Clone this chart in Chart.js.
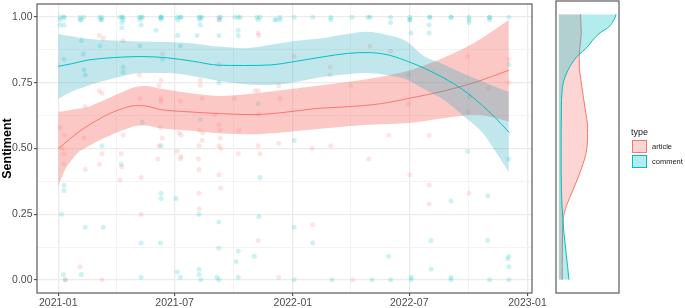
<!DOCTYPE html>
<html>
<head>
<meta charset="utf-8">
<script src="https://cdn.jsdelivr.net/npm/chart.js@4.4.1/dist/chart.umd.min.js"></script>
<style>
  html, body { margin: 0; padding: 0; background: #fff; }
  #wrap { position: relative; width: 685px; height: 308px; overflow: hidden; font-family: "Liberation Sans", Arial, sans-serif; color: #1a1a1a; }
  #mainChart { position: absolute; left: 0; top: 0; }
  #densityChart { position: absolute; left: 540px; top: 0; }
  .ttl { position: absolute; left: 631px; top: 127px; font-size: 9px; line-height: 10px; }
  .key { position: absolute; left: 632px; width: 15px; height: 13px; box-sizing: border-box; border: 1px solid; }
  .lab { position: absolute; left: 652px; font-size: 7.5px; line-height: 13px; }
</style>
</head>
<body>
<div id="wrap">
  <canvas id="mainChart" width="550" height="308"></canvas>
  <canvas id="densityChart" width="90" height="308"></canvas>
  <div class="ttl">type</div>
  <div class="key" style="top:140px;background:rgba(248,118,109,0.3);border-color:#F8766D"></div>
  <div class="lab" style="top:140px">article</div>
  <div class="key" style="top:155px;background:rgba(0,191,196,0.3);border-color:#00BFC4"></div>
  <div class="lab" style="top:155px">comment</div>
</div>
<script>
/* ===========================
Data (x = days since 2021-01-01)
=========================== */

const xMajorDays = [0, 181, 365, 546, 730];
const xTickLabels = ["2021-01", "2021-07", "2022-01", "2022-07", "2023-01"];
const xMinorDays = [90, 273, 455, 638];
const yMajor = [0, 0.25, 0.5, 0.75, 1];
const yTickLabels = ["0.00", "0.25", "0.50", "0.75", "1.00"];
const yMinor = [0.125, 0.375, 0.625, 0.875];

const articleDays = [64, 70, 101, 126, 162, 160, 157, 221, 221, 64, 68, 42, 127, 160, 160, 190, 3, 9, 40, 101, 159, 162, 188, 191, 219, 219,
    6, 9, 9, 42, 64, 68, 98, 99, 96, 129, 155, 157, 185, 191, 190, 218, 219, 219, 219, 129, 34, 68, 11,
    224, 274, 306, 311, 343, 345, 455, 312, 244, 250, 252, 281, 252, 250, 253, 225, 224, 311, 343, 395, 424, 250, 311, 312, 250, 367, 423, 423,
    280, 314, 483, 250, 253, 311, 396, 343, 458,
    485, 517, 637, 701, 701, 670, 545, 637, 514, 577, 547, 577, 577, 639];
const articleVals = [0.93, 0.92, 0.91, 0.78, 0.86, 0.76, 0.74, 0.76, 0.74, 0.72, 0.71, 0.66, 0.69, 0.69, 0.68, 0.68, 0.58, 0.55, 0.54, 0.55, 0.58, 0.54, 0.56, 0.55, 0.57, 0.51,
    0.50, 0.48, 0.44, 0.42, 0.44, 0.48, 0.48, 0.43, 0.38, 0.39, 0.46, 0.51, 0.49, 0.47, 0.46, 0.46, 0.42, 0.33, 0.27, 0.25, 0.05, 0.00, 0.00,
    0.69, 0.69, 0.72, 0.72, 0.74, 0.69, 0.74, 0.63, 0.63, 0.59, 0.57, 0.57, 0.54, 0.51, 0.50, 0.56, 0.53, 0.51, 0.52, 0.50, 0.51, 0.99, 0.94, 0.93, 0.82, 0.85, 0.81, 0.78,
    0.48, 0.48, 0.46, 0.40, 0.35, 0.15, 0.21, 0.01, 0.00,
    0.89, 0.87, 0.85, 0.84, 0.75, 0.73, 0.67, 0.64, 0.55, 0.55, 0.40, 0.36, 0.29, 0.33];

const commentDays = [3, 3, 9, 9, 34, 36, 40, 64, 66, 68, 96, 99, 101, 101, 126, 127, 129, 131, 159, 160, 160, 161, 185, 186, 190, 191, 219, 220, 221, 224,
    250, 251, 253, 275, 280, 283, 309, 311, 314, 337, 345, 367, 396, 424, 424, 457, 482, 485, 517, 547, 547, 578, 578, 611, 611, 639, 639, 671, 671, 701,
    3, 9, 34, 68, 99, 99, 129, 152, 186, 216, 221, 280, 280, 250, 339, 345, 517, 547, 577, 577, 549, 639, 671,
    36, 65, 9, 39, 40, 42, 101, 101, 162, 127, 190, 250, 701, 545, 640, 637, 68, 160, 131, 221, 311,
    98, 9, 9, 5, 42, 70, 160, 160, 183, 219, 129, 159, 8, 36, 129, 185, 190, 219, 219, 222, 11,
    314, 250, 312, 367, 396, 250, 280, 277, 305, 247, 250, 280, 367, 426, 367,
    701, 611, 668, 580, 668, 514, 701, 699, 701, 580, 488, 517, 549, 549, 611, 611, 671, 701];
const commentVals = [1, 0.99, 1, 1, 1, 0.99, 1, 1, 0.99, 1, 1, 1, 1, 0.99, 1, 0.99, 1, 1, 1, 1, 0.99, 1, 1, 0.99, 1, 1, 1, 0.99, 1, 1,
    1, 0.99, 1, 1, 1, 1, 1, 0.99, 1, 0.99, 1, 1, 1, 1, 0.99, 1, 1, 1, 1, 1, 0.99, 1, 1, 1, 1, 1, 0.99, 1, 1, 1,
    0.97, 0.97, 0.99, 0.99, 0.98, 0.96, 0.97, 0.95, 0.93, 0.93, 0.97, 0.95, 0.93, 0.93, 0.99, 0.99, 0.98, 0.99, 0.97, 0.94, 0.94, 0.98, 0.99,
    0.91, 0.89, 0.84, 0.86, 0.80, 0.78, 0.81, 0.79, 0.84, 0.89, 0.89, 0.75, 0.82, 0.78, 0.70, 0.49, 0.51, 0.51, 0.60, 0.61, 0.67,
    0.44, 0.36, 0.34, 0.25, 0.20, 0.20, 0.33, 0.31, 0.31, 0.25, 0.14, 0.14, 0.02, 0.02, 0.01, 0.03, 0.01, 0.04, 0.02, 0.00, 0.00,
    0.39, 0.22, 0.24, 0.20, 0.14, 0.12, 0.11, 0.07, 0.09, 0.01, 0.00, 0.01, 0.00, 0.00, 0.53,
    0.46, 0.30, 0.32, 0.15, 0.15, 0.09, 0.09, 0.08, 0.05, 0.04, 0.00, 0.00, 0.00, 0.01, 0.01, 0.00, 0.00, 0.00];

// smoothed trend + confidence band
const articleFitDays = [0, 10, 20, 30, 45, 60, 80, 100, 120, 135, 160, 200, 250, 300, 350, 400, 450, 500, 550, 600, 650, 701];
const articleFit = [0.50, 0.52, 0.54, 0.56, 0.585, 0.607, 0.633, 0.652, 0.663, 0.662, 0.648, 0.64, 0.633, 0.629, 0.637, 0.652, 0.659, 0.67, 0.693, 0.719, 0.753, 0.798];
const articleUpper = [0.64, 0.643, 0.647, 0.651, 0.657, 0.672, 0.693, 0.715, 0.734, 0.738, 0.727, 0.712, 0.70, 0.708, 0.723, 0.738, 0.753, 0.772, 0.80, 0.846, 0.906, 0.989];
const articleLower = [0.356, 0.416, 0.453, 0.483, 0.506, 0.527, 0.549, 0.569, 0.586, 0.588, 0.577, 0.569, 0.558, 0.554, 0.562, 0.573, 0.585, 0.592, 0.598, 0.615, 0.628, 0.603];

const commentFitDays = [0, 20, 45, 70, 100, 130, 170, 210, 250, 290, 330, 370, 410, 450, 480, 510, 540, 570, 600, 630, 660, 680, 701];
const commentFit = [0.813, 0.822, 0.836, 0.843, 0.848, 0.85, 0.845, 0.832, 0.817, 0.816, 0.818, 0.832, 0.848, 0.862, 0.865, 0.858, 0.835, 0.805, 0.768, 0.723, 0.663, 0.617, 0.562];
const commentUpper = [0.936, 0.927, 0.918, 0.913, 0.91, 0.907, 0.905, 0.9, 0.888, 0.882, 0.895, 0.91, 0.92, 0.936, 0.944, 0.933, 0.91, 0.85, 0.82, 0.785, 0.755, 0.735, 0.715];
const commentLower = [0.689, 0.715, 0.738, 0.757, 0.775, 0.787, 0.787, 0.775, 0.757, 0.745, 0.742, 0.753, 0.772, 0.783, 0.787, 0.78, 0.765, 0.725, 0.685, 0.625, 0.56, 0.49, 0.41];

// marginal density of sentiment
const densityLevels = [0, 0.05, 0.10, 0.18, 0.23, 0.28, 0.34, 0.42, 0.49, 0.57, 0.65, 0.70, 0.75, 0.80, 0.84, 0.88, 0.90, 0.93, 0.95, 0.98, 1.00];
const articleDensity = [0.23, 0.23, 0.24, 0.26, 0.30, 0.54, 1.0, 1.59, 1.94, 2.01, 1.82, 1.68, 1.55, 1.43, 1.42, 1.48, 1.52, 1.56, 1.55, 1.53, 1.52];
const commentDensity = [0.70, 0.61, 0.51, 0.35, 0.28, 0.22, 0.18, 0.16, 0.16, 0.16, 0.18, 0.21, 0.35, 0.74, 1.26, 2.04, 2.32, 2.88, 3.44, 3.86, 4.0];

/* ===========================
Helpers
=========================== */

const FONT = '"Liberation Sans", Arial, sans-serif';
const ARTICLE = "#F8766D";
const COMMENT = "#00BFC4";

const zip = (xs, ys) => xs.map((x, i) => ({ x: x, y: ys[i] }));

const panelBox = {
    id: "panelBox",
    afterDraw(chart) {
        const { ctx, chartArea: a } = chart;
        ctx.save();
        ctx.strokeStyle = "#5a5a5a";
        ctx.lineWidth = 1.2;
        ctx.strokeRect(a.left, a.top, a.right - a.left, a.bottom - a.top);
        ctx.restore();
    }
};

function band(days, vals, color, order, fill) {
    return {
        data: zip(days, vals),
        showLine: true,
        fill: fill,
        backgroundColor: color,
        borderColor: "transparent",
        borderWidth: 0,
        pointRadius: 0,
        cubicInterpolationMode: "monotone",
        order: order
    };
}

function trend(days, vals, color, order) {
    return {
        data: zip(days, vals),
        showLine: true,
        fill: false,
        borderColor: color,
        borderWidth: 1,
        pointRadius: 0,
        cubicInterpolationMode: "monotone",
        order: order
    };
}

/* ===========================
Main scatter + smooth
=========================== */

new Chart(document.getElementById("mainChart"), {
    type: "scatter",
    data: {
        datasets: [
            { data: zip(commentDays, commentVals), backgroundColor: "rgba(0,191,196,0.2)", pointRadius: 2.5, pointBorderWidth: 0, order: 20 },
            { data: zip(articleDays, articleVals), backgroundColor: "rgba(248,118,109,0.2)", pointRadius: 2.5, pointBorderWidth: 0, order: 19 },
            band(articleFitDays, articleUpper, "rgba(248,118,109,0.4)", 12, "+1"),
            band(articleFitDays, articleLower, "transparent", 12, false),
            trend(articleFitDays, articleFit, ARTICLE, 11),
            band(commentFitDays, commentUpper, "rgba(25,165,190,0.27)", 10, "+1"),
            band(commentFitDays, commentLower, "transparent", 10, false),
            trend(commentFitDays, commentFit, COMMENT, 9)
        ]
    },
    options: {
        responsive: false,
        animation: false,
        devicePixelRatio: 1,
        layout: { padding: { top: 1, right: 18, bottom: 0, left: 0 } },
        plugins: { legend: { display: false }, tooltip: { enabled: false } },
        scales: {
            x: {
                type: "linear",
                min: -33,
                max: 737,
                afterBuildTicks: s => { s.ticks = xMajorDays.concat(xMinorDays).sort((a, b) => a - b).map(v => ({ value: v })); },
                afterFit: s => { s.height = 15; s.paddingLeft = 0; s.paddingRight = 0; },
                border: { display: false },
                grid: {
                    color: c => (c.tick && xMajorDays.includes(c.tick.value)) ? "#EBEBEB" : "#F3F3F3",
                    lineWidth: c => (c.tick && xMajorDays.includes(c.tick.value)) ? 1.3 : 1,
                    tickLength: 3,
                    tickWidth: 1,
                    tickColor: c => (c.tick && xMajorDays.includes(c.tick.value)) ? "#333333" : "rgba(0,0,0,0)"
                },
                ticks: {
                    autoSkip: false,
                    maxRotation: 0,
                    padding: 1,
                    color: "#4D4D4D",
                    font: { family: FONT, size: 10.5 },
                    callback: v => { const i = xMajorDays.indexOf(v); return i >= 0 ? xTickLabels[i] : ""; }
                }
            },
            y: {
                type: "linear",
                min: -0.05,
                max: 1.05,
                afterBuildTicks: s => { s.ticks = yMajor.concat(yMinor).sort((a, b) => a - b).map(v => ({ value: v })); },
                afterFit: s => { s.width = 37; s.paddingTop = 0; s.paddingBottom = 0; },
                border: { display: false },
                grid: {
                    color: c => (c.tick && yMajor.includes(c.tick.value)) ? "#EBEBEB" : "#F3F3F3",
                    lineWidth: c => (c.tick && yMajor.includes(c.tick.value)) ? 1.3 : 1,
                    tickLength: 3,
                    tickWidth: 1,
                    tickColor: c => (c.tick && yMajor.includes(c.tick.value)) ? "#333333" : "rgba(0,0,0,0)"
                },
                ticks: {
                    padding: 1.5,
                    color: "#4D4D4D",
                    font: { family: FONT, size: 10.5 },
                    callback: v => { const i = yMajor.indexOf(v); return i >= 0 ? yTickLabels[i] : ""; }
                },
                title: {
                    display: true,
                    text: "Sentiment",
                    color: "#000000",
                    font: { family: FONT, size: 12.5, weight: "bold" },
                    padding: { top: 0, bottom: 0 }
                }
            }
        }
    },
    plugins: [panelBox]
});

/* ===========================
Marginal density
=========================== */

new Chart(document.getElementById("densityChart"), {
    type: "line",
    data: {
        datasets: [
            {
                data: zip(articleDensity, densityLevels),
                fill: "origin",
                backgroundColor: "rgba(248,118,109,0.3)",
                borderColor: ARTICLE,
                borderWidth: 1,
                pointRadius: 0,
                cubicInterpolationMode: "monotone",
                order: 2
            },
            {
                data: zip(commentDensity, densityLevels),
                fill: "origin",
                backgroundColor: "rgba(0,191,196,0.3)",
                borderColor: COMMENT,
                borderWidth: 1,
                pointRadius: 0,
                cubicInterpolationMode: "monotone",
                order: 1
            }
        ]
    },
    options: {
        indexAxis: "y",
        responsive: false,
        animation: false,
        devicePixelRatio: 1,
        layout: { padding: { top: 1, right: 11, bottom: 15, left: 16 } },
        plugins: { legend: { display: false }, tooltip: { enabled: false } },
        scales: {
            x: { type: "linear", min: -0.2, max: 4.2, display: false },
            y: { type: "linear", min: -0.05, max: 1.05, display: false }
        }
    },
    plugins: [panelBox]
});
</script>
</body>
</html>
